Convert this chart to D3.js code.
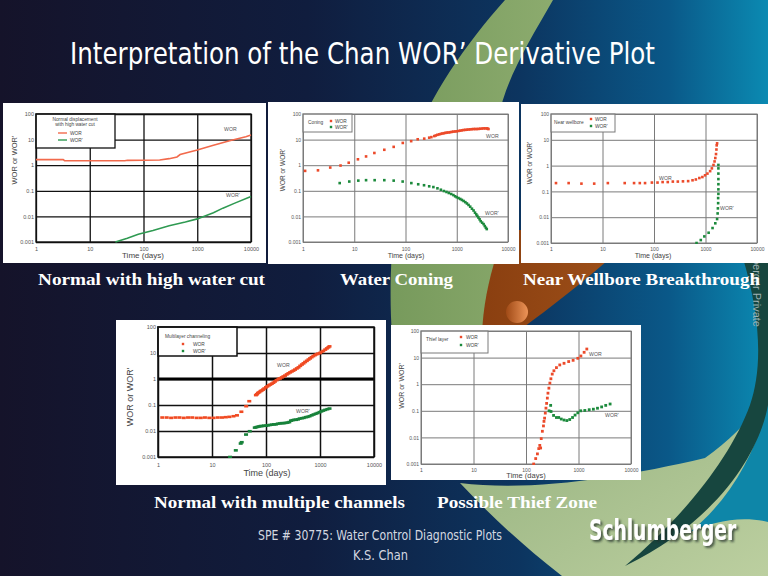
<!doctype html>
<html lang="en">
<head>
<meta charset="UTF-8">
<title>Interpretation of the Chan WOR' Derivative Plot</title>
<script src="https://cdn.jsdelivr.net/npm/d3@7"></script>
<style>
  html, body { margin: 0; padding: 0; background: #111; }
  svg { display: block; }
</style>
</head>
<body>
<script>
// axis ticks shared by all five plots
var xTicks = [1, 10, 100, 1000, 10000];
var xTickLabels = ["1", "10", "100", "1000", "10000"];
var yTicks = [0.001, 0.01, 0.1, 1, 10, 100];
var yTickLabels = ["0.001", "0.01", "0.1", "1", "10", "100"];

var captions = ["Normal with high water cut", "Water Coning", "Near Wellbore Breakthrough",
                "Normal with multiple channels", "Possible Thief Zone"];
var legendTitles = [["Normal displacement", "with high water cut"], ["Coning"], ["Near wellbore"],
                    ["Multilayer channeling"], ["Thief layer"]];

// [time (days), value]
var highCutWor = [[1, 1.65], [3.2, 1.65], [3.4, 1.5], [45, 1.5], [50, 1.55], [200, 1.6], [300, 1.8],
                  [420, 2.1], [480, 2.6], [1000, 3.9], [2000, 6], [4000, 9], [8000, 13], [10000, 15]];
var highCutWorD = [[30, 0.001], [50, 0.0014], [80, 0.002], [150, 0.0028], [300, 0.0043], [600, 0.006],
                   [1000, 0.008], [2000, 0.014], [3000, 0.021], [5000, 0.033], [10000, 0.06]];

var coningWor = [[1.1, 0.6], [1.96, 0.63], [3.4, 0.81], [5.4, 0.97], [7.8, 1.25], [11.8, 1.7], [17, 2.2],
                 [24.7, 3.0], [38.6, 4.0], [58.8, 5.2], [88.5, 7.4], [129, 8.7], [173, 10.3], [232, 10.9],
                 [290, 11.9], [320, 12.5], [365, 13.7], [390, 14.5], [420, 15.4], [455, 16], [490, 16.8],
                 [525, 17.3], [560, 17.8], [600, 18.3], [640, 18.8], [690, 19], [740, 19.4], [800, 20],
                 [860, 20.5], [930, 20.8], [1000, 21.1], [1080, 21.8], [1170, 22.4], [1260, 23], [1360, 23.7],
                 [1470, 24], [1580, 24.4], [1700, 24.8], [1830, 25.1], [1980, 25.5], [2130, 25.9], [2300, 25.9],
                 [2470, 25.9], [2670, 26.2], [2870, 26.6], [3100, 27], [3340, 27.4], [3600, 27.4], [3880, 27.4],
                 [4000, 26.5], [4160, 25.9]];
var coningWorD = [[5.2, 0.2], [8, 0.23], [12, 0.25], [17, 0.26], [25, 0.26], [38.6, 0.26], [58.8, 0.25],
                  [88, 0.23], [130, 0.2], [177, 0.18], [230, 0.165], [290, 0.15], [350, 0.14], [420, 0.125],
                  [490, 0.11], [560, 0.098], [630, 0.09], [700, 0.082], [780, 0.075], [860, 0.068], [930, 0.061],
                  [1000, 0.056], [1080, 0.052], [1170, 0.048], [1260, 0.044], [1360, 0.04], [1470, 0.036],
                  [1580, 0.032], [1700, 0.028], [1830, 0.024], [1980, 0.02], [2130, 0.017], [2270, 0.014],
                  [2400, 0.012], [2520, 0.0105], [2650, 0.009], [2790, 0.0077], [2930, 0.0065], [3130, 0.0057],
                  [3340, 0.005], [3520, 0.0042], [3700, 0.0036], [3850, 0.0032]];

var nearWellWor = [[1.25, 0.21], [2.2, 0.21], [3.9, 0.2], [6.9, 0.2], [12.7, 0.21], [27, 0.21], [41, 0.21],
                   [53, 0.21], [67, 0.21], [91, 0.22], [117, 0.22], [147, 0.23], [185, 0.23], [232, 0.24],
                   [290, 0.24], [365, 0.245], [460, 0.25], [560, 0.27], [650, 0.29], [760, 0.33], [870, 0.36],
                   [980, 0.42], [1090, 0.49], [1230, 0.61], [1330, 0.78], [1430, 1.06], [1500, 1.45],
                   [1550, 1.97], [1600, 2.8], [1630, 4.2], [1650, 6.1], [1680, 7.3]];
var nearWellWorD = [[670, 0.001], [810, 0.0013], [950, 0.0018], [1150, 0.0025], [1370, 0.0038], [1550, 0.0058],
                    [1680, 0.0085], [1720, 0.014], [1740, 0.022], [1760, 0.035], [1760, 0.055], [1780, 0.08],
                    [1780, 0.12], [1780, 0.19], [1780, 0.3], [1780, 0.49], [1780, 0.78], [1780, 1.06]];

var multiWor = [[1.2, 0.033], [1.45, 0.033], [1.75, 0.032], [2.1, 0.033], [2.5, 0.033], [3, 0.032], [3.6, 0.033],
                [4.3, 0.033], [5.2, 0.032], [6.2, 0.032], [7.4, 0.033], [8.9, 0.032], [10.7, 0.032], [12.8, 0.033],
                [15.3, 0.033], [18, 0.034], [21, 0.035], [25, 0.037], [29, 0.04], [35, 0.055], [43, 0.09],
                [49, 0.14], [65, 0.24], [68, 0.26], [71, 0.29], [75, 0.31], [79, 0.34], [83, 0.36], [88, 0.39],
                [93, 0.43], [100, 0.48], [106, 0.52], [113, 0.57], [120, 0.61], [128, 0.66], [137, 0.72],
                [146, 0.8], [157, 0.9], [170, 1.0], [182, 1.05], [196, 1.15], [210, 1.25], [225, 1.35],
                [242, 1.5], [260, 1.65], [280, 1.8], [300, 1.95], [322, 2.1], [345, 2.3], [372, 2.55], [400, 2.8],
                [430, 3.2], [462, 3.6], [495, 4.0], [530, 4.5], [570, 5.0], [612, 5.6], [655, 6.2], [700, 6.9],
                [752, 7.6], [805, 8.3], [862, 8.9], [925, 9.5], [1000, 10], [1070, 11], [1150, 12], [1250, 13.5],
                [1340, 15], [1430, 16.5], [1500, 18]];
var multiWorD = [[21.6, 0.001], [27.6, 0.0018], [34, 0.0033], [35.5, 0.0037], [42.7, 0.0073], [50, 0.0098],
                 [62, 0.0135], [66, 0.014], [70, 0.0145], [75, 0.015], [80, 0.0155], [86, 0.0155], [92, 0.016],
                 [100, 0.016], [108, 0.0165], [117, 0.017], [128, 0.0175], [140, 0.018], [152, 0.018],
                 [165, 0.019], [180, 0.0195], [195, 0.02], [212, 0.02], [230, 0.0205], [250, 0.021], [270, 0.022],
                 [290, 0.025], [310, 0.026], [335, 0.027], [360, 0.027], [390, 0.028], [420, 0.03], [460, 0.031],
                 [500, 0.032], [545, 0.034], [590, 0.035], [640, 0.037], [700, 0.04], [760, 0.043], [830, 0.046],
                 [900, 0.049], [980, 0.053], [1060, 0.057], [1150, 0.061], [1250, 0.065], [1370, 0.069],
                 [1500, 0.073]];

var thiefWor = [[140, 0.001], [153, 0.0016], [165, 0.0024], [175, 0.0038], [183, 0.005], [190, 0.004],
                [195, 0.009], [205, 0.017], [215, 0.027], [220, 0.04], [226, 0.053], [233, 0.082], [240, 0.126],
                [247, 0.19], [255, 0.3], [262, 0.46], [273, 0.71], [285, 1.1], [298, 1.6], [316, 2.4], [340, 3.2],
                [380, 4.2], [440, 5.3], [530, 6.1], [650, 7.1], [790, 7.9], [970, 9.4], [1110, 11.5],
                [1280, 15.8], [1440, 21]];
var thiefWorD = [[295, 0.16], [275, 0.1], [300, 0.094], [335, 0.067], [380, 0.056], [420, 0.056], [470, 0.049],
                 [530, 0.045], [600, 0.043], [680, 0.047], [770, 0.056], [860, 0.069], [970, 0.084], [1100, 0.1],
                 [1320, 0.103], [1600, 0.11], [1920, 0.115], [2300, 0.125], [2760, 0.14], [3300, 0.16],
                 [4000, 0.18]];

var W = 768, H = 576;
var RED = "#ec4a2a", GREEN = "#1c8a3c";

var svg = d3.select("body").append("svg").attr("width", W).attr("height", H);
var defs = svg.append("defs");

function linGrad(id, x2, y2, stops) {
  var gr = defs.append("linearGradient").attr("id", id)
    .attr("x1", 0).attr("y1", 0).attr("x2", x2).attr("y2", y2);
  stops.forEach(function(s) { gr.append("stop").attr("offset", s[0]).attr("stop-color", s[1]); });
}
linGrad("bg", 1, 0, [["0%", "#15132a"], ["40%", "#101d3e"], ["68%", "#0c3560"], ["87%", "#0a5888"], ["100%", "#0b8ab2"]]);
linGrad("stripe", 1, 0, [["0%", "#779a5c"], ["100%", "#8cab6e"]]);
linGrad("orange", 1, 0, [["0%", "#8a3f10"], ["100%", "#a0521a"]]);
linGrad("ball", 1, 0, [["0%", "#a04a16"], ["100%", "#ec9458"]]);
linGrad("lgreen", 1, 1, [["0%", "#93b07c"], ["100%", "#bccfa0"]]);
defs.append("filter").attr("id", "shadow").attr("x", "-10%").attr("y", "-20%").attr("width", "130%").attr("height", "160%")
  .append("feDropShadow").attr("dx", 2).attr("dy", 2).attr("stdDeviation", 1)
  .attr("flood-color", "#1c2a24").attr("flood-opacity", 0.7);

// slide background
svg.append("rect").attr("width", W).attr("height", H).attr("fill", "url(#bg)");
svg.append("path").attr("fill", "url(#stripe)")
  .attr("d", "M505,0 L553,0 C530,40 505,80 498,120 C492,170 495,220 500,263 L488,335 L392,335 C388,280 392,200 410,150 C430,95 465,45 505,0 Z");
svg.append("path").attr("fill", "url(#orange)")
  .attr("d", "M505,230 L640,230 C600,270 560,300 520,330 L482,335 C483,300 492,265 505,230 Z");
svg.append("circle").attr("cx", 517).attr("cy", 312).attr("r", 11).attr("fill", "url(#ball)");
svg.append("path").attr("fill", "url(#lgreen)")
  .attr("d", "M460,483 C530,492 620,478 705,458 C730,440 750,420 768,395 L768,576 L562,576 C522,545 490,515 460,483 Z");
svg.append("path").attr("fill", "#0e86a8")
  .attr("d", "M768,400 L768,522 C740,515 712,522 690,532 C730,500 758,450 768,400 Z");
svg.append("path").attr("fill", "#17463f")
  .attr("d", "M742,255 L768,255 L768,405 C760,450 720,520 625,566 C680,520 730,460 750,405 C762,370 762,320 742,255 Z");

// vertical "Schlumberger Private" (mostly hidden behind the right plot)
svg.append("text").text("Schlumberger Private")
  .attr("transform", "translate(753,327) rotate(90)")
  .attr("text-anchor", "end")
  .attr("font-family", "Liberation Sans, Arial, sans-serif")
  .attr("font-size", 11).attr("fill", "#9fb2b4");

// title
svg.append("text").text("Interpretation of the Chan WOR\u2019 Derivative Plot")
  .attr("x", 70).attr("y", 64)
  .attr("font-family", "'Liberation Sans Narrow', 'DejaVu Sans Condensed', 'Liberation Sans', sans-serif")
  .attr("font-size", 31).attr("fill", "#ffffff")
  .attr("textLength", 585).attr("lengthAdjust", "spacingAndGlyphs");

var panels = [
  { box: [3, 103, 266, 263], plot: [36, 114, 251, 242], grid: "#111", gw: 1.3, frame: "#111",
    legend: [36, 114, 115, 148], lines: [[highCutWor, "#f26a4c"], [highCutWorD, "#2f9a52"]], dots: [],
    legendKeys: [[58, 133, 70, 135, "WOR", "#f26a4c"], [58, 140, 70, 142, "WOR'", "#2f9a52"]], keyType: "line",
    titleXY: [[75, 121], [75, 126]], titleAnchor: "middle",
    notes: [[224, 131, "WOR"], [226, 197, "WOR'"]],
    ylab: [14, 160, 7.5], xlab: [143, 258, 8], xlabY: 249, tick: 5.5 },
  { box: [268, 102, 519, 264], plot: [303, 114, 508, 242], grid: "#7a7a7a", gw: 1, frame: "#7a7a7a",
    legend: [303, 114, 352, 132], lines: [], dots: [[coningWor, RED], [coningWorD, GREEN]], mark: [2.6, 2.6],
    legendKeys: [[331, 121, 335, 122.5, "WOR", RED], [331, 127, 335, 128.5, "WOR'", GREEN]], keyType: "dot",
    titleXY: [[308, 124]], titleAnchor: "start",
    notes: [[486, 138, "WOR"], [485, 215, "WOR'"]],
    ylab: [283, 170, 6.5], xlab: [406, 258, 7], xlabY: 249, tick: 5 },
  { box: [521, 104, 768, 263], plot: [551, 114, 757, 243], grid: "#7a7a7a", gw: 1, frame: "#7a7a7a",
    legend: [551, 114, 615, 132], lines: [], dots: [[nearWellWor, RED], [nearWellWorD, GREEN]], mark: [2.6, 2.6],
    legendKeys: [[591, 119, 595, 120.5, "WOR", RED], [591, 126, 595, 127.5, "WOR'", GREEN]], keyType: "dot",
    titleXY: [[554, 124]], titleAnchor: "start",
    notes: [[659, 180, "WOR"], [720, 210, "WOR'"]],
    ylab: [530, 163, 6.5], xlab: [653, 258, 7], xlabY: 249, tick: 5 },
  { box: [116, 320, 386, 485], plot: [158, 327, 374, 457], grid: "#111", gw: 1.5, frame: "#111",
    legend: [158, 327, 237, 356], lines: [], dots: [[multiWor, "#f04a22"], [multiWorD, "#17823a"]], mark: [4, 2.6],
    legendKeys: [[183, 344, 193, 345.8, "WOR", RED], [183, 351, 193, 352.8, "WOR'", GREEN]], keyType: "dot",
    titleXY: [[165, 338]], titleAnchor: "start", thickOne: true,
    notes: [[277, 367, "WOR"], [296, 413, "WOR'"]],
    ylab: [130, 397, 9], xlab: [267, 476, 9], xlabY: 465, tick: 5.5 },
  { box: [391, 325, 641, 480], plot: [421, 331, 631, 464], grid: "#7a7a7a", gw: 1, frame: "#7a7a7a",
    legend: [421, 331, 488, 353], lines: [], dots: [[thiefWor, RED], [thiefWorD, GREEN]], mark: [2.8, 2.8],
    legendKeys: [[461, 337, 466, 338.5, "WOR", RED], [461, 345, 466, 346.5, "WOR'", GREEN]], keyType: "dot",
    titleXY: [[426, 341]], titleAnchor: "start",
    notes: [[589, 356, "WOR"], [605, 417, "WOR'"]],
    ylab: [402, 386, 7], xlab: [526, 478, 7.5], xlabY: 470, tick: 5 }
];

var FONT = "'Liberation Sans', Arial, sans-serif";

panels.forEach(function(p, i) {
  var g = svg.append("g");
  g.append("rect").attr("x", p.box[0]).attr("y", p.box[1])
    .attr("width", p.box[2] - p.box[0]).attr("height", p.box[3] - p.box[1]).attr("fill", "#ffffff");

  var x = d3.scaleLog().domain([1, 10000]).range([p.plot[0], p.plot[2]]);
  var y = d3.scaleLog().domain([0.001, 100]).range([p.plot[3], p.plot[1]]);
  var pw = p.plot[2] - p.plot[0], ph = p.plot[3] - p.plot[1];

  // grid lines
  g.append("g").attr("transform", "translate(0," + p.plot[3] + ")")
    .call(d3.axisBottom(x).tickValues(xTicks).tickSize(-ph).tickFormat(""))
    .call(function(a) { a.select(".domain").remove(); a.selectAll("text").remove(); })
    .selectAll("line").attr("stroke", p.grid).attr("stroke-width", p.gw);
  g.append("g").attr("transform", "translate(" + p.plot[0] + ",0)")
    .call(d3.axisLeft(y).tickValues(yTicks).tickSize(-pw).tickFormat(""))
    .call(function(a) { a.select(".domain").remove(); a.selectAll("text").remove(); })
    .selectAll("line").attr("stroke", p.grid).attr("stroke-width", p.gw);
  if (p.thickOne) {
    g.append("line").attr("x1", p.plot[0]).attr("x2", p.plot[2]).attr("y1", y(1)).attr("y2", y(1))
      .attr("stroke", "#000").attr("stroke-width", 3);
  }

  // legend box
  g.append("rect").attr("x", p.legend[0]).attr("y", p.legend[1])
    .attr("width", p.legend[2] - p.legend[0]).attr("height", p.legend[3] - p.legend[1])
    .attr("fill", "#ffffff").attr("stroke", p.frame).attr("stroke-width", p.gw);
  // plot frame
  g.append("rect").attr("x", p.plot[0]).attr("y", p.plot[1]).attr("width", pw).attr("height", ph)
    .attr("fill", "none").attr("stroke", p.frame).attr("stroke-width", p.gw);

  // tick labels
  g.append("g").attr("transform", "translate(0," + p.xlabY + ")")
    .call(d3.axisBottom(x).tickValues(xTicks).tickSize(0).tickPadding(0)
      .tickFormat(function(d, k) { return xTickLabels[k]; }))
    .call(function(a) { a.select(".domain").remove(); })
    .attr("font-family", FONT).attr("font-size", p.tick).attr("color", "#555")
    .selectAll("text").attr("dy", "0.3em");
  g.append("g").attr("transform", "translate(" + (p.plot[0] - 2) + ",0)")
    .call(d3.axisLeft(y).tickValues(yTicks).tickSize(0).tickPadding(0)
      .tickFormat(function(d, k) { return yTickLabels[k]; }))
    .call(function(a) { a.select(".domain").remove(); })
    .attr("font-family", FONT).attr("font-size", p.tick).attr("color", "#555");

  // axis titles
  g.append("text").text("Time (days)").attr("x", p.xlab[0]).attr("y", p.xlab[1])
    .attr("text-anchor", "middle").attr("font-family", FONT).attr("font-size", p.xlab[2]).attr("fill", "#444");
  g.append("text").text("WOR or WOR'")
    .attr("transform", "translate(" + p.ylab[0] + "," + p.ylab[1] + ") rotate(-90)")
    .attr("text-anchor", "middle").attr("dy", "0.35em")
    .attr("font-family", FONT).attr("font-size", p.ylab[2]).attr("fill", "#444");

  // legend text + keys
  legendTitles[i].forEach(function(t, k) {
    g.append("text").text(t).attr("x", p.titleXY[k][0]).attr("y", p.titleXY[k][1])
      .attr("text-anchor", p.titleAnchor).attr("font-family", FONT).attr("font-size", 4.8).attr("fill", "#444");
  });
  p.legendKeys.forEach(function(k) {
    if (p.keyType === "line") {
      g.append("line").attr("x1", k[0]).attr("x2", k[0] + 9).attr("y1", k[1]).attr("y2", k[1])
        .attr("stroke", k[5]).attr("stroke-width", 1.4);
    } else {
      g.append("rect").attr("x", k[0] - 1.2).attr("y", k[1] - 1.2).attr("width", 2.4).attr("height", 2.4)
        .attr("fill", k[5]);
    }
    g.append("text").text(k[4]).attr("x", k[2]).attr("y", k[3])
      .attr("font-family", FONT).attr("font-size", 4.8).attr("fill", "#444");
  });

  // data
  var clipId = "clip" + i;
  defs.append("clipPath").attr("id", clipId).append("rect")
    .attr("x", p.plot[0] - 2).attr("y", p.plot[1] - 3).attr("width", pw + 4).attr("height", ph + 4);
  var dg = g.append("g").attr("clip-path", "url(#" + clipId + ")");
  var line = d3.line().x(function(d) { return x(d[0]); }).y(function(d) { return y(d[1]); });
  p.lines.forEach(function(s) {
    dg.append("path").datum(s[0]).attr("d", line).attr("fill", "none")
      .attr("stroke", s[1]).attr("stroke-width", 1.6);
  });
  p.dots.forEach(function(s) {
    dg.selectAll(null).data(s[0]).enter().append("rect")
      .attr("x", function(d) { return x(d[0]) - p.mark[0] / 2; })
      .attr("y", function(d) { return y(d[1]) - p.mark[1] / 2; })
      .attr("width", p.mark[0]).attr("height", p.mark[1])
      .attr("fill", s[1]);
  });

  // curve names
  p.notes.forEach(function(n) {
    g.append("text").text(n[2]).attr("x", n[0]).attr("y", n[1])
      .attr("font-family", FONT).attr("font-size", 5.2).attr("fill", "#555");
  });
});

// captions under the plots
var capPos = [[38, 285, 227], [340, 285, 113], [523, 285, 237], [154, 508, 251], [437, 508, 160]];
captions.forEach(function(c, i) {
  svg.append("text").text(c)
    .attr("x", capPos[i][0]).attr("y", capPos[i][1])
    .attr("font-family", "'Liberation Serif', 'Times New Roman', serif")
    .attr("font-weight", "bold").attr("font-size", 17).attr("fill", "#ffffff")
    .attr("textLength", capPos[i][2]).attr("lengthAdjust", "spacingAndGlyphs");
});

// footer
svg.append("text").text("SPE # 30775: Water Control Diagnostic Plots")
  .attr("x", 258).attr("y", 540)
  .attr("font-family", "'Liberation Sans Narrow', 'DejaVu Sans Condensed', 'Liberation Sans', sans-serif")
  .attr("font-size", 14).attr("fill", "#d4d8e0")
  .attr("textLength", 244).attr("lengthAdjust", "spacingAndGlyphs");
svg.append("text").text("K.S. Chan")
  .attr("x", 353).attr("y", 560)
  .attr("font-family", "'Liberation Sans Narrow', 'DejaVu Sans Condensed', 'Liberation Sans', sans-serif")
  .attr("font-size", 14).attr("fill", "#d4d8e0")
  .attr("textLength", 55).attr("lengthAdjust", "spacingAndGlyphs");

// logo with drop shadow, squeezed horizontally
svg.append("g").attr("filter", "url(#shadow)")
  .append("text").text("Schlumberger")
  .attr("transform", "translate(589,540) scale(0.74,1)")
  .attr("font-family", "'DejaVu Sans Condensed', 'Liberation Sans Narrow', sans-serif")
  .attr("font-weight", "bold").attr("font-size", 28).attr("fill", "#ffffff");
</script>
</body>
</html>
